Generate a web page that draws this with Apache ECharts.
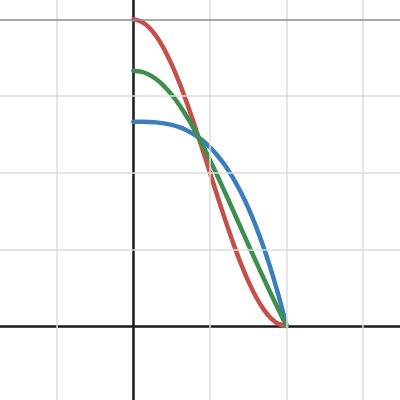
<!DOCTYPE html>
<html>
<head>
<meta charset="utf-8">
<script src="https://cdn.jsdelivr.net/npm/echarts@6/dist/echarts.min.js"></script>
<style>
  html, body { margin: 0; padding: 0; background: #fff; }
  #main { width: 400px; height: 400px; }
</style>
</head>
<body>
<div id="main"></div>
<script>
// x positions sampled along the curves
var xs = [0, 0.1, 0.2, 0.3, 0.4, 0.5, 0.6, 0.7, 0.8, 0.9, 1.0,
          1.1, 1.2, 1.3, 1.4, 1.5, 1.6, 1.7, 1.8, 1.9, 2.0];
// values
var redVals = [4, 3.975, 3.902, 3.782, 3.618, 3.414, 3.176, 2.908, 2.618, 2.313, 2,
               1.687, 1.382, 1.092, 0.824, 0.586, 0.382, 0.218, 0.098, 0.025, 0];
var greenVals = [3.333, 3.321, 3.283, 3.22, 3.132, 3.02, 2.886, 2.73, 2.557, 2.369, 2.167,
                 1.955, 1.737, 1.513, 1.288, 1.064, 0.842, 0.624, 0.411, 0.203, 0];
var blueVals = [2.667, 2.666, 2.664, 2.658, 2.645, 2.625, 2.595, 2.552, 2.496, 2.424, 2.333,
                2.223, 2.091, 1.934, 1.752, 1.542, 1.301, 1.029, 0.723, 0.38, 0];
// grid lines
var xGrid = [-1, 1, 2, 3];
var yGrid = [1, 2, 3];
var topLine = 4;

function pairs(vals) {
  return xs.map(function (x, i) { return [x, vals[i]]; });
}

var chart = echarts.init(document.getElementById('main'));

var axisStyle = { color: '#1a1a1a', width: 2.5 };

var gridLines = xGrid.map(function (v) {
  return { xAxis: v, lineStyle: { color: '#dcdcdc', width: 1.5, type: 'solid' } };
}).concat(yGrid.map(function (v) {
  return { yAxis: v, lineStyle: { color: '#dcdcdc', width: 1.5, type: 'solid' } };
})).concat([
  { yAxis: topLine, lineStyle: { color: '#8c8c8c', width: 1.5, type: 'solid' } }
]);

var option = {
  animation: false,
  grid: { left: 0, right: 0, top: 0, bottom: 0 },
  xAxis: {
    type: 'value', min: -1.74, max: 3.48,
    axisLine: { onZero: true, lineStyle: axisStyle },
    axisTick: { show: false }, axisLabel: { show: false },
    splitLine: { show: false }
  },
  yAxis: {
    type: 'value', min: -0.965, max: 4.255,
    axisLine: { onZero: true, lineStyle: axisStyle },
    axisTick: { show: false }, axisLabel: { show: false },
    splitLine: { show: false }
  },
  series: [
    {
      type: 'line', data: [], z: 1,
      markLine: {
        silent: true, symbol: 'none', label: { show: false },
        data: gridLines
      }
    },
    {
      type: 'line', data: pairs(redVals), smooth: 0.3, symbol: 'none', z: 3,
      lineStyle: { color: '#c74f4b', width: 4.5, cap: 'round' }
    },
    {
      type: 'line', data: pairs(blueVals), smooth: 0.3, symbol: 'none', z: 3,
      lineStyle: { color: '#3a7ebf', width: 4.5, cap: 'round' }
    },
    {
      type: 'line', data: pairs(greenVals), smooth: 0.3, symbol: 'none', z: 3,
      lineStyle: { color: '#3d8f4f', width: 4.5, cap: 'round' }
    }
  ]
};
chart.setOption(option);
</script>
</body>
</html>
